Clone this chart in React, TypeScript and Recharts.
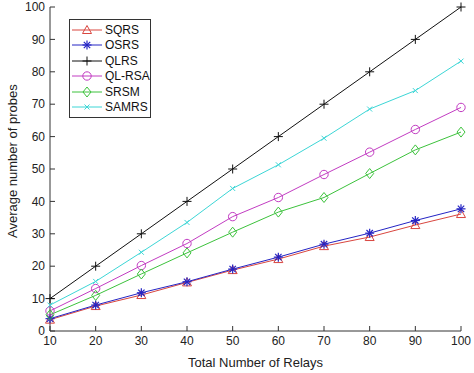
import React from 'react';
import { LineChart, Line, XAxis, YAxis, Legend } from 'recharts';

const relays = [10, 20, 30, 40, 50, 60, 70, 80, 90, 100];
const sqrs = [3.5, 7.7, 11.1, 15.0, 18.8, 22.2, 26.2, 29.0, 32.7, 36.1];
const osrs = [3.8, 8.0, 11.8, 15.2, 19.1, 22.8, 26.8, 30.2, 34.1, 37.7];
const qlrs = [10, 20, 30, 40, 50, 60, 70, 80, 90, 100];
const qlrsa = [6.2, 13.1, 20.2, 27.0, 35.3, 41.2, 48.3, 55.2, 62.2, 69.0];
const srsm = [5.0, 11.0, 17.6, 24.1, 30.5, 36.7, 41.2, 48.6, 55.9, 61.4];
const samrs = [8.0, 15.3, 24.3, 33.5, 44.0, 51.3, 59.5, 68.5, 74.2, 83.3];

const xTicks = [10, 20, 30, 40, 50, 60, 70, 80, 90, 100];
const yTicks = [0, 10, 20, 30, 40, 50, 60, 70, 80, 90, 100];

const data = relays.map((r, i) => ({
  x: r,
  SQRS: sqrs[i],
  OSRS: osrs[i],
  QLRS: qlrs[i],
  'QL-RSA': qlrsa[i],
  SRSM: srsm[i],
  SAMRS: samrs[i],
}));

type Shape = 'triangle' | 'star' | 'plus' | 'circle' | 'diamond' | 'x';

const series: { key: string; color: string; shape: Shape }[] = [
  { key: 'SQRS', color: '#d9463f', shape: 'triangle' },
  { key: 'OSRS', color: '#2424c4', shape: 'star' },
  { key: 'QLRS', color: '#111111', shape: 'plus' },
  { key: 'QL-RSA', color: '#c23cc2', shape: 'circle' },
  { key: 'SRSM', color: '#3cc23c', shape: 'diamond' },
  { key: 'SAMRS', color: '#3cd6d6', shape: 'x' },
];

function Marker({ cx, cy, shape, color }: { cx: number; cy: number; shape: Shape; color: string }) {
  const sw = 1;
  switch (shape) {
    case 'triangle':
      return (
        <polygon
          points={`${cx},${cy - 4.5} ${cx - 4.5},${cy + 3.5} ${cx + 4.5},${cy + 3.5}`}
          fill="none"
          stroke={color}
          strokeWidth={sw}
        />
      );
    case 'star':
      return (
        <g stroke={color} strokeWidth={1.2}>
          <line x1={cx - 4.5} y1={cy} x2={cx + 4.5} y2={cy} />
          <line x1={cx} y1={cy - 4.5} x2={cx} y2={cy + 4.5} />
          <line x1={cx - 3.2} y1={cy - 3.2} x2={cx + 3.2} y2={cy + 3.2} />
          <line x1={cx - 3.2} y1={cy + 3.2} x2={cx + 3.2} y2={cy - 3.2} />
        </g>
      );
    case 'plus':
      return (
        <g stroke={color} strokeWidth={sw}>
          <line x1={cx - 4.5} y1={cy} x2={cx + 4.5} y2={cy} />
          <line x1={cx} y1={cy - 4.5} x2={cx} y2={cy + 4.5} />
        </g>
      );
    case 'circle':
      return <circle cx={cx} cy={cy} r={4.2} fill="none" stroke={color} strokeWidth={sw} />;
    case 'diamond':
      return (
        <polygon
          points={`${cx},${cy - 5} ${cx + 4},${cy} ${cx},${cy + 5} ${cx - 4},${cy}`}
          fill="none"
          stroke={color}
          strokeWidth={sw}
        />
      );
    case 'x':
    default:
      return (
        <g stroke={color} strokeWidth={sw}>
          <line x1={cx - 2.5} y1={cy - 2.5} x2={cx + 2.5} y2={cy + 2.5} />
          <line x1={cx - 2.5} y1={cy + 2.5} x2={cx + 2.5} y2={cy - 2.5} />
        </g>
      );
  }
}

const makeDot = (shape: Shape, color: string) => (props: any) => {
  const { cx, cy, index } = props;
  if (cx == null || cy == null) return <g key={index} />;
  return (
    <g key={index}>
      <Marker cx={cx} cy={cy} shape={shape} color={color} />
    </g>
  );
};

const LegendBox = () => (
  <div
    style={{
      border: '1px solid #333',
      background: '#fff',
      width: 82,
      padding: '2px 0 2px 0',
      fontFamily: '"Liberation Sans", Arial, sans-serif',
      fontSize: 12,
      color: '#111',
      boxSizing: 'border-box',
      whiteSpace: 'nowrap',
    }}
  >
    {series.map((s) => (
      <div key={s.key} style={{ display: 'flex', alignItems: 'center', height: 15.5 }}>
        <svg width={34} height={14} style={{ display: 'block', flexShrink: 0 }}>
          <line x1={2} y1={7} x2={32} y2={7} stroke={s.color} strokeWidth={1} />
          <Marker cx={17} cy={7} shape={s.shape} color={s.color} />
        </svg>
        <span style={{ marginLeft: 1, lineHeight: '14px' }}>{s.key}</span>
      </div>
    ))}
  </div>
);

const font = '"Liberation Sans", Arial, sans-serif';

export default function App() {
  return (
    <div style={{ position: 'absolute', left: 0, top: 0, background: '#fff' }}>
      <LineChart
        width={474}
        height={373}
        data={data}
        margin={{ top: 7, right: 13, bottom: 12, left: 10 }}
        style={{ fontFamily: font }}
      >
        <XAxis
          xAxisId="b"
          dataKey="x"
          type="number"
          domain={[10, 100]}
          ticks={xTicks}
          interval={0}
          height={30}
          tickSize={-5}
          tickMargin={10}
          stroke="#333"
          tick={{ fill: '#222', fontSize: 12, fontFamily: font }}
          label={{ value: 'Total Number of Relays', position: 'insideBottom', offset: -6, fill: '#222', fontSize: 13, fontFamily: font }}
        />
        <XAxis
          xAxisId="t"
          orientation="top"
          dataKey="x"
          type="number"
          domain={[10, 100]}
          ticks={xTicks}
          interval={0}
          height={0}
          tickSize={-5}
          tick={false}
          stroke="#333"
        />
        <YAxis
          yAxisId="l"
          type="number"
          domain={[0, 100]}
          ticks={yTicks}
          interval={0}
          width={40}
          tickSize={-5}
          tickMargin={10}
          stroke="#333"
          tick={{ fill: '#222', fontSize: 12, fontFamily: font }}
          label={{ value: 'Average number of probes', angle: -90, position: 'insideLeft', offset: 2, dy: 69, fill: '#222', fontSize: 13, fontFamily: font }}
        />
        <YAxis
          yAxisId="r"
          orientation="right"
          type="number"
          domain={[0, 100]}
          ticks={yTicks}
          interval={0}
          width={0}
          tickSize={-5}
          tick={false}
          stroke="#333"
        />
        <Legend
          layout="vertical"
          align="center"
          verticalAlign="middle"
          content={<LegendBox />}
          wrapperStyle={{ position: 'absolute', left: 69, top: 19, width: 84, height: 98 }}
        />
        {series.map((s) => (
          <Line
            key={s.key}
            xAxisId="b"
            yAxisId="l"
            type="linear"
            dataKey={s.key}
            stroke={s.color}
            strokeWidth={1}
            dot={makeDot(s.shape, s.color)}
            activeDot={false}
            isAnimationActive={false}
            legendType="none"
          />
        ))}
      </LineChart>
    </div>
  );
}
